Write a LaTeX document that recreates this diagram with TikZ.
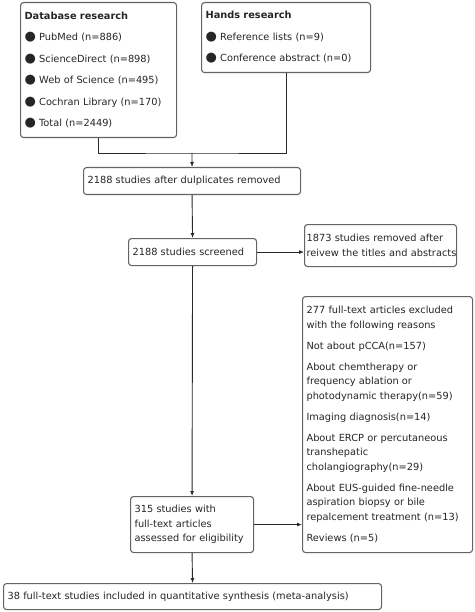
\documentclass[tikz,border=0pt]{standalone}
\usepackage{fontspec}
\setmainfont{DejaVu Sans}
\usetikzlibrary{arrows.meta}

\definecolor{boxgray}{RGB}{100,100,100}
\definecolor{linegray}{RGB}{40,40,40}

\newcommand{\bul}{{\fontsize{13}{13}\selectfont ●}}

\tikzset{
  box/.style={draw=boxgray, line width=1.1pt, rounded corners=3pt, fill=white,
    inner xsep=4pt, inner ysep=3pt, align=left, text=black!85,
    font=\fontsize{9.8}{14.5}\selectfont},
  list/.style={font=\fontsize{9.8}{21.5}\selectfont},
  link/.style={draw=linegray, line width=0.9pt},
  arr/.style={link, -{Latex[length=5pt,width=4pt]}},
}

\begin{document}
\begin{tikzpicture}[x=1pt, y=1pt]
	\useasboundingbox (0,0) rectangle (474,-612);

	\node (db) [box, list, anchor=north west, text width=148pt, minimum height=135pt] at (20,-2) {\textbf{Database research}\\ \bul\ PubMed (n=886)\\ \bul\ ScienceDirect (n=898)\\ \bul\ Web of Science (n=495)\\ \bul\ Cochran Library (n=170)\\ \bul\ Total (n=2449)};
	\node (hands) [box, list, anchor=north west, text width=161pt, minimum height=70pt] at (201,-2) {\textbf{Hands research}\\ \bul\ Reference lists (n=9)\\ \bul\ Conference abstract (n=0)};

	\node (dup) [box, anchor=north west, text width=209pt, minimum height=27pt] at (83,-167) {2188 studies after dulplicates removed};
	\node (screened) [box, anchor=north west, text width=120pt, minimum height=27pt] at (128,-238) {2188 studies screened};
	\node (removed) [box, anchor=north west, inner xsep=2pt, text width=148pt, minimum height=42pt] at (304,-224) {1873 studies removed after\\ \mbox{reivew the titles and abstracts}};
	\node (excluded) [box, anchor=north west, text width=162pt, minimum height=256pt] at (302,-296) {277 full-text articles excluded\\ with the following reasons\\[6.5pt] Not about pCCA(n=157)\\[6.5pt] About chemtherapy or\\ frequency ablation or\\ photodynamic therapy(n=59)\\[6.5pt] Imaging diagnosis(n=14)\\[6.5pt] About ERCP or percutaneous\\ transhepatic\\ cholangiography(n=29)\\[6.5pt] About EUS-guided fine-needle\\ aspiration biopsy or bile\\ repalcement treatment (n=13)\\[6.5pt] Reviews (n=5)};
	\node (eligible) [box, anchor=north west, text width=115pt, minimum height=56pt] at (130,-496) {315 studies with\\ full-text articles\\ assessed for eligibility};
	\node (incl) [box, anchor=north west, text width=370pt, minimum height=26pt] at (3,-583) {38 full-text studies included in quantitative synthesis (meta-analysis)};

	\coordinate (merge) at (192,-153);
	\draw[link] (db.south) |- (merge) -| (hands.south);
	\draw[arr] (merge) -- (dup.north);
	\draw[arr] (dup.south) -- (screened.north);
	\draw[arr] (screened.east) -- (screened.east -| removed.west);
	\draw[arr] (screened.south) -- (eligible.north);
	\draw[arr] (eligible.east) -- (eligible.east -| excluded.west);
	\draw[arr] (eligible.south) -- (incl.north);
\end{tikzpicture}
\end{document}
